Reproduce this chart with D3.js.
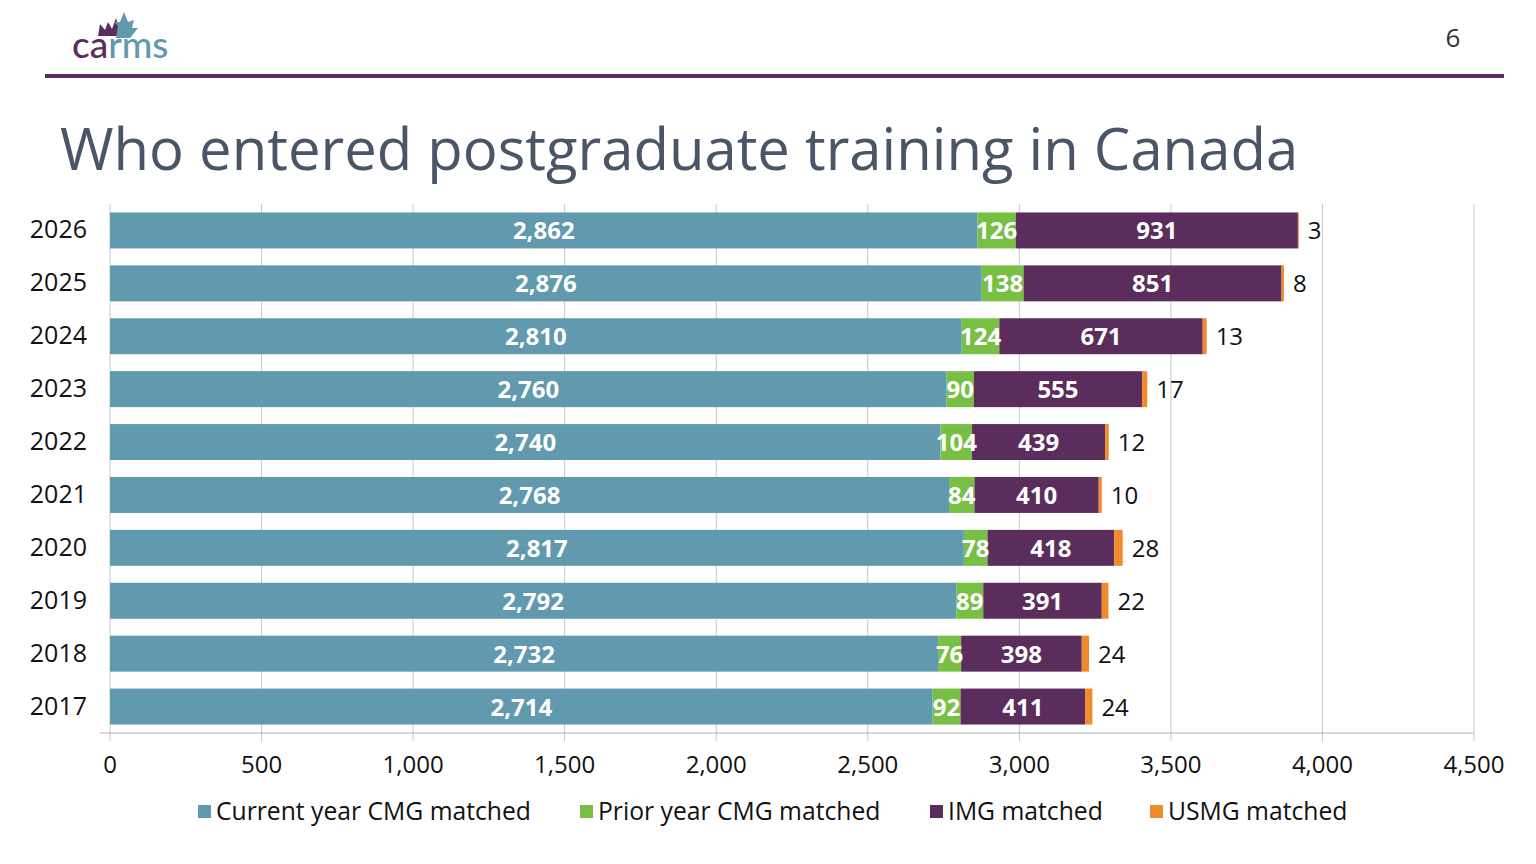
<!DOCTYPE html>
<html>
<head>
<meta charset="utf-8">
<script src="https://cdn.jsdelivr.net/npm/d3@7"></script>
<style>
  html, body { margin: 0; padding: 0; background: #fff; }
  svg { display: block; font-family: "Open Sans", "Noto Sans", sans-serif; }
</style>
</head>
<body>
<div id="chart"></div>
<script>
// ---- data ----
const years       = ["2026", "2025", "2024", "2023", "2022", "2021", "2020", "2019", "2018", "2017"];
const currentCMG  = [2862, 2876, 2810, 2760, 2740, 2768, 2817, 2792, 2732, 2714];
const priorCMG    = [126, 138, 124, 90, 104, 84, 78, 89, 76, 92];
const imgMatched  = [931, 851, 671, 555, 439, 410, 418, 391, 398, 411];
const usmgMatched = [3, 8, 13, 17, 12, 10, 28, 22, 24, 24];
const seriesNames = ["Current year CMG matched", "Prior year CMG matched", "IMG matched", "USMG matched"];
const seriesKeys  = ["cur", "prior", "img", "usmg"];
const xTicks      = [0, 500, 1000, 1500, 2000, 2500, 3000, 3500, 4000, 4500];

const colors = { cur: "#6199ae", prior: "#77c043", img: "#5b2d5c", usmg: "#f08a2b" };

const W = 1536, H = 864;
const svg = d3.select("#chart").append("svg").attr("width", W).attr("height", H);

// ---- slide header ----
const logo = svg.append("g").attr("transform", "translate(72,58)");
// little crown / maple mark
logo.append("path")
  .attr("d", "M26,-22 L28,-34 L33,-28 L36,-36 L40,-29 L44,-40 L47,-30 L50,-22 Z")
  .attr("fill", "#5b2d5c");
logo.append("path")
  .attr("d", "M44,-20 L46,-32 L42,-36 L48,-36 L52,-46 L56,-36 L62,-38 L60,-30 L66,-30 L58,-20 Z")
  .attr("fill", "#6199ae");
const logoText = logo.append("text").attr("font-size", 37).attr("font-weight", 500)
  .attr("font-family", "Lato, 'Open Sans', sans-serif");
logoText.append("tspan").attr("fill", "#5b2d5c").text("ca");
logoText.append("tspan").attr("fill", "#6199ae").text("rms");

svg.append("text").attr("x", 1453).attr("y", 47).attr("text-anchor", "middle")
  .attr("font-size", 26).attr("fill", "#333").text("6");

svg.append("line").attr("x1", 45).attr("x2", 1504).attr("y1", 76).attr("y2", 76)
  .attr("stroke", "#5b2d5c").attr("stroke-width", 4);

svg.append("text").attr("x", 60).attr("y", 170)
  .attr("font-size", 58).attr("fill", "#4a5568")
  .text("Who entered postgraduate training in Canada");

// ---- chart ----
const rows = years.map((y, i) => ({
  year: y, cur: currentCMG[i], prior: priorCMG[i], img: imgMatched[i], usmg: usmgMatched[i]
}));

const x = d3.scaleLinear().domain([0, 4500]).range([110, 1474]);
const y = d3.scaleBand().domain(years).range([204, 733]).paddingInner(0.32).paddingOuter(0.16);

const stack = d3.stack().keys(seriesKeys)(rows);

// gridlines (extend a little below the axis like tick marks)
svg.append("g").selectAll("line").data(xTicks).join("line")
  .attr("x1", d => x(d)).attr("x2", d => x(d))
  .attr("y1", 204).attr("y2", 741)
  .attr("stroke", "#c8c8c8").attr("stroke-width", 1);

svg.append("line").attr("x1", 100).attr("x2", 1474).attr("y1", 733).attr("y2", 733)
  .attr("stroke", "#b0b0b0");

// bars
const layers = svg.append("g").selectAll("g").data(stack).join("g")
  .attr("fill", d => colors[d.key]);
layers.selectAll("rect").data(d => d).join("rect")
  .attr("x", d => x(d[0]))
  .attr("width", d => x(d[1]) - x(d[0]))
  .attr("y", d => y(d.data.year))
  .attr("height", y.bandwidth());

// value labels
const fmt = d3.format(",");
stack.forEach(layer => {
  const inside = layer.key !== "usmg";
  svg.append("g").selectAll("text").data(layer).join("text")
    .attr("x", d => inside ? x((d[0] + d[1]) / 2) : x(d[1]) + 9)
    .attr("y", d => y(d.data.year) + y.bandwidth() / 2 + 9)
    .attr("text-anchor", inside ? "middle" : "start")
    .attr("font-size", 24)
    .attr("font-weight", inside ? 700 : 400)
    .attr("fill", inside ? "#fff" : "#111")
    .text(d => fmt(d[1] - d[0]));
});

// year labels
svg.append("g").selectAll("text").data(years).join("text")
  .attr("x", 87).attr("y", d => y(d) + y.bandwidth() / 2 + 8)
  .attr("text-anchor", "end").attr("font-size", 25).attr("fill", "#111")
  .text(d => d);

// x tick labels
svg.append("g").selectAll("text").data(xTicks).join("text")
  .attr("x", d => x(d)).attr("y", 773)
  .attr("text-anchor", "middle").attr("font-size", 24).attr("fill", "#111")
  .text(d => fmt(d));

// legend
const legendX = [198, 580, 930, 1150];
const legend = svg.append("g").selectAll("g").data(seriesKeys).join("g")
  .attr("transform", (d, i) => `translate(${legendX[i]},811)`);
legend.append("rect").attr("x", 0).attr("y", -6).attr("width", 13).attr("height", 13)
  .attr("fill", d => colors[d]);
legend.append("text").attr("x", 18).attr("y", 9).attr("font-size", 24.7).attr("fill", "#111")
  .text((d, i) => seriesNames[i]);
</script>
</body>
</html>
